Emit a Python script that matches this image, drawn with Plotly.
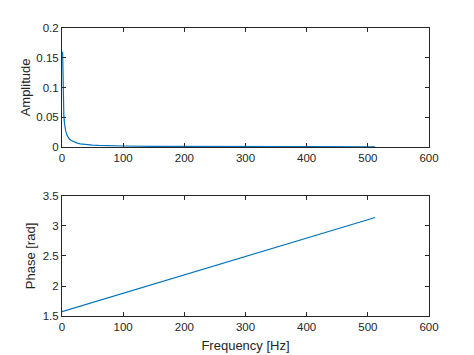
import plotly.graph_objects as go
from plotly.subplots import make_subplots

# Amplitude spectrum
amp_freq = [1, 2, 3, 4, 5, 6, 8, 10, 12, 15, 20, 25, 30, 40, 50, 60, 80, 100, 150, 200, 300, 400, 512]
amp_vals = [0.16, 0.08, 0.053, 0.04, 0.032, 0.027, 0.02, 0.016, 0.0133, 0.0107, 0.008, 0.0064,
            0.0053, 0.004, 0.0032, 0.0027, 0.002, 0.0016, 0.0011, 0.0008, 0.00053, 0.0004, 0.0003]

# Phase
ph_freq = [0, 100, 200, 300, 400, 512]
ph_vals = [1.571, 1.878, 2.185, 2.492, 2.798, 3.142]

x_ticks = [0, 100, 200, 300, 400, 500, 600]
amp_ticks = [0, 0.05, 0.1, 0.15, 0.2]
amp_tick_text = ["0", "0.05", "0.1", "0.15", "0.2"]
ph_ticks = [1.5, 2, 2.5, 3, 3.5]
ph_tick_text = ["1.5", "2", "2.5", "3", "3.5"]

LINE = "#0072BD"
AX = "#262626"
FONT = "Liberation Sans, Arial, sans-serif"

fig = make_subplots(rows=2, cols=1)
fig.add_trace(go.Scatter(x=amp_freq, y=amp_vals, mode="lines",
                         line=dict(color=LINE, width=1.2), showlegend=False), row=1, col=1)
fig.add_trace(go.Scatter(x=ph_freq, y=ph_vals, mode="lines",
                         line=dict(color=LINE, width=1.2), showlegend=False), row=2, col=1)

axis_common = dict(showline=True, linecolor=AX, linewidth=1, mirror="ticks",
                   ticks="inside", ticklen=4, tickcolor=AX, showgrid=False, zeroline=False,
                   automargin=False,
                   tickfont=dict(family=FONT, size=11.5, color=AX))

fig.update_xaxes(**axis_common, range=[0, 600], tickvals=x_ticks, ticktext=[str(v) for v in x_ticks])
fig.update_yaxes(**axis_common)
fig.update_yaxes(range=[0, 0.2], tickvals=amp_ticks, ticktext=amp_tick_text,
                 title=dict(text="Amplitude", font=dict(family=FONT, size=13, color=AX), standoff=2),
                 row=1, col=1)
fig.update_yaxes(range=[1.5, 3.5], tickvals=ph_ticks, ticktext=ph_tick_text,
                 title=dict(text="Phase [rad]", font=dict(family=FONT, size=13, color=AX), standoff=4),
                 row=2, col=1)
fig.update_xaxes(title=dict(text="Frequency [Hz]", font=dict(family=FONT, size=13, color=AX), standoff=9),
                 row=2, col=1)

fig.update_layout(
    width=466, height=347,
    margin=dict(l=54, r=45, t=20, b=39),
    paper_bgcolor="white", plot_bgcolor="white",
    font=dict(family=FONT, color=AX),
)
fig.update_layout(yaxis=dict(domain=[0.587, 1.0]), yaxis2=dict(domain=[0.0, 0.4167]))

fig.write_html("out.html")
